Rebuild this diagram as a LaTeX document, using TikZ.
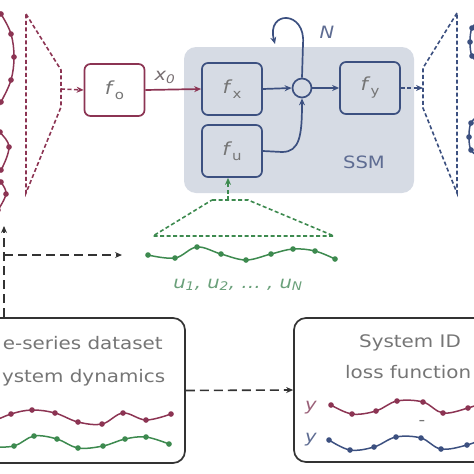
\documentclass[tikz,border=0pt]{standalone}
\usepackage{fontspec}
\setmainfont{DejaVu Sans}[FakeStretch=1.15]
\usetikzlibrary{arrows.meta,calc}
\definecolor{cred}{HTML}{8C3453}
\definecolor{cblue}{HTML}{3C5080}
\definecolor{cgreen}{HTML}{3D8A4F}
\definecolor{cssm}{HTML}{D6DBE4}
\definecolor{ctext}{HTML}{757575}
\definecolor{credl}{HTML}{9A6078}
\definecolor{cbluel}{HTML}{5E6C92}
\definecolor{cgreenl}{HTML}{6AA07A}
\definecolor{cblack}{HTML}{333333}
\begin{document}
\begin{tikzpicture}[x=1pt,y=-1pt,
  fbox/.style={draw, line width=1.7pt, rounded corners=6pt, minimum width=60pt, minimum height=52pt, inner sep=0pt, text=ctext, font=\fontsize{18}{18}\selectfont},
  bigbox/.style={draw=cblack, line width=1.7pt, rounded corners=12pt, inner sep=0pt},
  cdash/.style={line width=1.6pt, dash pattern=on 4pt off 2.5pt},
  bdash/.style={line width=1.6pt, dash pattern=on 9pt off 5pt, draw=cblack},
  tip/.style={-{Stealth[length=7pt,width=6pt]}},
  wave/.style={line width=1.5pt, smooth, tension=0.6},
  btext/.style={text=ctext, font=\fontsize{17.3}{17.3}\selectfont, inner sep=0pt}
]
\useasboundingbox (0,0) rectangle (474,474);
\clip (0,0) rectangle (474,474);

% ---------------- SSM block
\node[fill=cssm, rounded corners=12pt, minimum width=230pt, minimum height=146pt, inner sep=0pt] (ssm) at (299,120) {};
\node[text=cbluel, font=\fontsize{17}{17}\selectfont] (ssmlab) at (364,162) {SSM};

\node[fbox, draw=cred] (fo) at (114.5,90) {\itshape f\/\raisebox{-5pt}{\upshape\fontsize{13}{13}\selectfont o}};
\node[fbox, draw=cblue] (fx) at (232,89) {\itshape f\/\raisebox{-5pt}{\upshape\fontsize{13}{13}\selectfont x}};
\node[fbox, draw=cblue] (fu) at (232,151) {\itshape f\/\raisebox{-5pt}{\upshape\fontsize{13}{13}\selectfont u}};
\node[fbox, draw=cblue] (fy) at (370,88) {\itshape f\/\raisebox{-5pt}{\upshape\fontsize{13}{13}\selectfont y}};
\node[circle, draw=cblue, line width=1.7pt, minimum size=19pt, inner sep=0pt] (circ) at (302,88) {};

% arrows inside
\draw[cred, line width=1.7pt, tip] (fo.east) -- (fx.west);
\node[text=ctext!90!cred, font=\fontsize{17}{17}\selectfont] (x0) at (165,77) {\itshape x\textsubscript{0}};
\draw[cblue, line width=1.7pt, tip] (fx.east) -- (circ.west);
\draw[cblue, line width=1.7pt, tip] (circ.east) -- (fy.west);
\coordinate (ub) at (282,152);
\draw[cblue, line width=1.7pt, tip] (fu.east) -- (ub) .. controls (300,152) and (302,135) .. (circ.south);
\coordinate (lp1) at (303,44);
\coordinate (lp2) at (275,44);
\draw[cblue, line width=1.7pt, tip] (circ.north) -- (lp1) .. controls (306,10) and (266,10) .. (lp2);
\node[text=cbluel, font=\fontsize{17}{17}\selectfont] (nlab) at (327,32) {\itshape N};

% ---------------- left input (red)
\coordinate (la) at (26,14);
\coordinate (lb) at (61,70);
\coordinate (lm) at (61,89);
\coordinate (lc) at (61,107);
\coordinate (ld) at (26,193);
\draw[cred, cdash] (la) -- (lb) -- (lc) -- (ld) -- cycle;
\draw[cred, cdash, tip] (lm) -- (fo.west);
\draw[cred, wave, mark=*, mark size=2pt, mark options={solid}] plot coordinates {(-8,2) (1,14) (11,34) (14,57) (11,80) (1,102) (-8,118)};
\draw[cred, wave, mark=*, mark size=2pt, mark options={solid}] plot coordinates {(-8,122) (0,132) (9,147) (1,170) (-8,178)};
\draw[cred, wave, mark=*, mark size=2pt, mark options={solid}] plot coordinates {(-6,172) (1,182) (6,194) (-2,210)};

% ---------------- right output (blue)
\coordinate (ra) at (457,13);
\coordinate (rb) at (423,68);
\coordinate (rm) at (423,88);
\coordinate (rc) at (423,108);
\coordinate (rd) at (457,193);
\draw[cblue, cdash] (ra) -- (rb) -- (rc) -- (rd) -- cycle;
\draw[cblue, cdash, tip] (fy.east) -- (rm);
\draw[cblue, wave, mark=*, mark size=2pt, mark options={solid}] plot coordinates {(480,20) (472,28) (470,42) (472,56) (480,64)};
\draw[cblue, wave, mark=*, mark size=2pt, mark options={solid}] plot coordinates {(480,114) (471,123) (469,137) (471,150) (480,158)};

% ---------------- input u (green)
\coordinate (ga) at (212,200);
\coordinate (gm) at (228,200);
\coordinate (gb) at (248,200);
\coordinate (gc) at (334,236);
\coordinate (gd) at (153,236);
\draw[cgreen, cdash] (ga) -- (gb) -- (gc) -- (gd) -- cycle;
\draw[cgreen, cdash, tip] (gm) -- (gm |- fu.south);
\draw[cgreen, wave, mark=*, mark size=2pt, mark options={solid}] plot coordinates {(148,255) (175,258) (197,247) (221,254) (246,260) (271,254) (293,249) (315,251) (335,259)};
\node[text=cgreenl, font=\fontsize{17}{17}\selectfont, anchor=base, inner sep=0pt] (ulab) at (238,288) {\itshape u\textsubscript{1}, u\textsubscript{2}, … , u\textsubscript{N}};

% ---------------- dataset box
\node[bigbox, minimum width=205pt, minimum height=145pt] (lbox) at (82.5,390.5) {};
\node[btext, anchor=base east] (l1) at (163,349) {e-series dataset};
\node[btext, anchor=base east] (l2) at (165.5,382) {ystem dynamics};
\draw[cred, wave, mark=*, mark size=2pt, mark options={solid}] plot coordinates {(-10,423) (11,414) (32,410) (55,413) (78,422) (102,424) (123,413) (146,420) (171,414)};
\draw[cgreen, wave, mark=*, mark size=2pt, mark options={solid}] plot coordinates {(-10,447) (14,446) (34,436) (57,439) (78,448) (103,446) (125,439) (146,437) (169,444)};

\coordinate (vtop) at (4,226);
\coordinate (vj) at (4,255);
\coordinate (harr) at (122,255);
\draw[bdash, tip] (vtop |- lbox.north) -- (vtop);
\draw[bdash, tip] (vj) -- (harr);

% ---------------- loss box
\node[bigbox, minimum width=220pt, minimum height=144pt] (rbox) at (404,390) {};
\draw[bdash, tip] (lbox.east) -- (rbox.west);
\node[btext, anchor=base] (r1) at (410,347) {System ID};
\node[btext, anchor=base west] (r2) at (345,378) {loss function};
\node[text=credl, font=\fontsize{17}{17}\selectfont, anchor=base, inner sep=0pt] (ya) at (311,410) {\itshape y};
\node[text=cbluel, font=\fontsize{17}{17}\selectfont, anchor=base, inner sep=0pt] (yb) at (311,442) {\itshape y};
\node[text=ctext, font=\fontsize{16}{16}\selectfont, inner sep=0pt] (minus) at (422,423) {-};
\draw[cred, wave, mark=*, mark size=2pt, mark options={solid}] plot coordinates {(331,405) (352,414) (376,411) (397,401) (423,402) (443,413) (468,408) (490,400)};
\draw[cblue, wave, mark=*, mark size=2pt, mark options={solid}] plot coordinates {(329,440) (350,450) (374,447) (396,437) (421,438) (441,449) (467,445) (490,436)};
\end{tikzpicture}
\end{document}
